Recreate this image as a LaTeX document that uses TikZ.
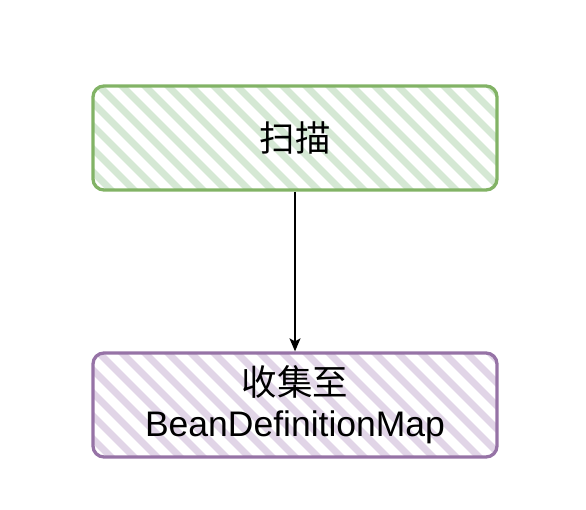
\documentclass[tikz,border=0pt]{standalone}
\usepackage{fontspec}
\setmainfont{Liberation Sans}
\newfontfamily\cjk{Noto Sans CJK SC}
\usetikzlibrary{arrows.meta}
\definecolor{gfill}{HTML}{D5E8D4}
\definecolor{gline}{HTML}{82B366}
\definecolor{pfill}{HTML}{E1D5E7}
\definecolor{pline}{HTML}{9673A6}
\tikzset{
  hatch/.style={path picture={
    \foreach \d in {-115,-92,...,420}{
      \draw[#1, line width=7pt, line cap=round]
        ([xshift=\d pt, yshift=6pt]path picture bounding box.north west) -- ++(125pt,-125pt);
    }}},
  box/.style={draw, line width=3.3pt, rounded corners=11pt, minimum width=404pt,
    minimum height=104pt, align=center, inner sep=0pt,
    font=\fontsize{35.5}{41}\selectfont},
  flow/.style={-{Stealth[length=13pt,width=11pt,inset=3pt]}, line width=1.5pt, draw=black}
}
\begin{document}
\begin{tikzpicture}[x=1pt,y=-1pt]
\useasboundingbox (0,0) rectangle (586,510);
\node[box, draw=gline, hatch=gfill] (scan) at (295,138) {\cjk 扫描};
\node[box, draw=pline, hatch=pfill] (collect) at (295,405) {{\cjk 收集至}\\BeanDefinitionMap};
\draw[flow] (scan) -- (collect);
\end{tikzpicture}
\end{document}
